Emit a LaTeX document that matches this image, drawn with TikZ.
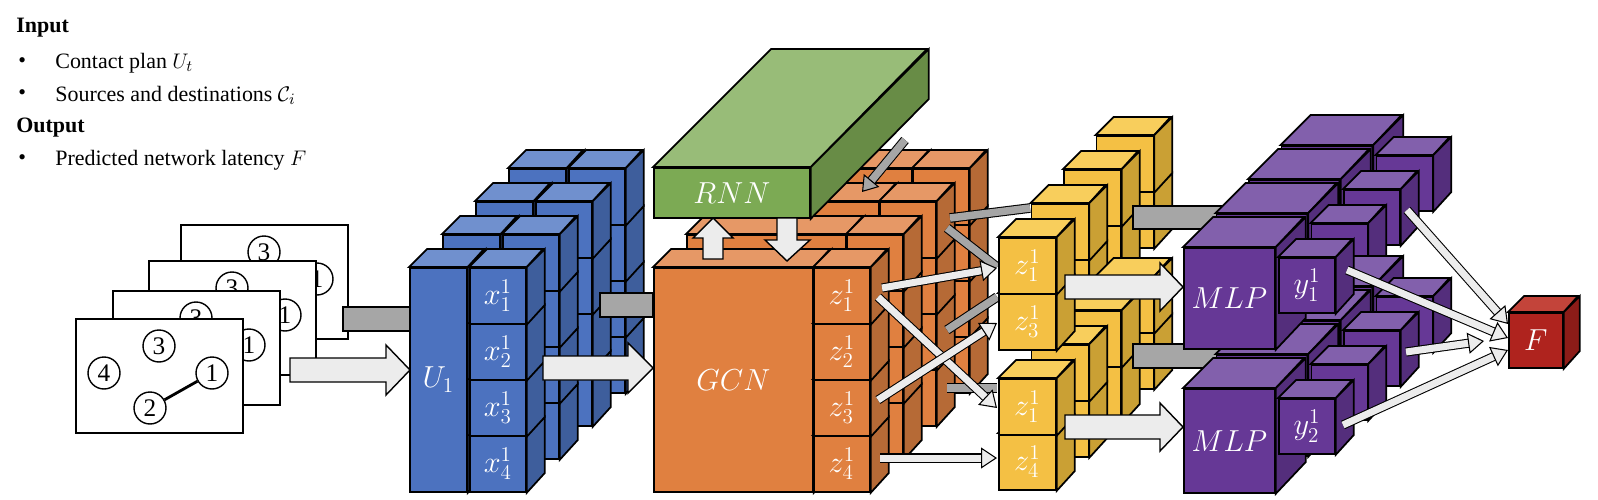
\documentclass[tikz,border=0pt]{standalone}
\usepackage{fontspec}
\setmainfont{Liberation Serif}
\usepackage{amsmath}
\usetikzlibrary{arrows.meta,positioning}

\definecolor{blueF}{RGB}{76,114,191}\definecolor{blueT}{RGB}{112,144,206}\definecolor{blueS}{RGB}{62,94,156}
\definecolor{oraF}{RGB}{224,128,64}\definecolor{oraT}{RGB}{230,152,102}\definecolor{oraS}{RGB}{182,106,54}
\definecolor{grnF}{RGB}{124,170,84}\definecolor{grnT}{RGB}{152,188,120}\definecolor{grnS}{RGB}{104,140,70}
\definecolor{yelF}{RGB}{244,192,68}\definecolor{yelT}{RGB}{248,206,92}\definecolor{yelS}{RGB}{202,160,52}
\definecolor{purF}{RGB}{102,56,150}\definecolor{purT}{RGB}{130,96,172}\definecolor{purS}{RGB}{84,46,124}
\definecolor{redF}{RGB}{175,35,30}\definecolor{redT}{RGB}{195,68,58}\definecolor{redS}{RGB}{140,28,24}
\definecolor{arrowgray}{RGB}{236,236,236}
\definecolor{bargray}{RGB}{166,166,166}

% front face is a node, top and side faces hang on its anchors
\newcommand{\cube}[8]{%
  \node[cubeface,fill=#7F,minimum width={#4*0.02cm},minimum height={#5*0.02cm}] (#1) at ({#2},{#3}) {#8};
  \filldraw[cubeline,fill=#7T] (#1.north west) -- ++(#6,-#6) -- ++(#4,0) -- (#1.north east) -- cycle;
  \filldraw[cubeline,fill=#7S] (#1.north east) -- ++(#6,-#6) -- ++(0,#5) -- (#1.south east) -- cycle;}
\newcommand{\blockarrow}[6]{%
  \filldraw[blockarr] (#1,{#3-#4}) -- ({#2-#6},{#3-#4}) -- ({#2-#6},{#3-#5}) -- (#2,#3)
    -- ({#2-#6},{#3+#5}) -- ({#2-#6},{#3+#4}) -- (#1,{#3+#4}) -- cycle;}

\begin{document}
\begin{tikzpicture}[x=0.02cm,y=-0.02cm,
    cubeface/.style={draw,line width=1pt,anchor=north west,inner sep=0pt,text=white,font=\LARGE},
    cubeline/.style={line width=1pt},
    blockarr/.style={fill=arrowgray,draw,line width=0.8pt},
    graybar/.style={fill=bargray,draw,line width=0.8pt},
    grayline/.style={draw,line width=0.6pt,double=bargray,double distance=0.15cm},
    thinarrow/.style={draw,line width=0.6pt,double=arrowgray,double distance=0.14cm,
      -{Triangle[length=0.32cm,width=0.42cm,fill=arrowgray]}},
    txt/.style={anchor=west,inner sep=0pt,font=\fontsize{12.5}{15}\selectfont},
    vertex/.style={circle,draw,line width=0.8pt,fill=white,minimum size=0.64cm,inner sep=0pt,font=\Large}]
  \useasboundingbox (0,0) rectangle (1598,500);

  % text block
  \node[txt,font=\fontsize{12.5}{15}\selectfont\bfseries] (inp) at (16,28) {Input};
  \node[txt] (b1) at (18,63) {\textbullet};
  \node[txt] (t1) at (55,63) {Contact plan $U_t$};
  \node[txt] (b2) at (18,95) {\textbullet};
  \node[txt] (t2) at (55,95) {Sources and destinations $\mathcal{C}_i$};
  \node[txt,font=\fontsize{12.5}{15}\selectfont\bfseries] (outp) at (16,128) {Output};
  \node[txt] (b3) at (18,160) {\textbullet};
  \node[txt] (t3) at (55,160) {Predicted network latency $F$};

  % contact plan snapshots
  \foreach \s/\gx/\gy in {4/181/225,3/149/261,2/113/291,1/76/319}{
    \filldraw[fill=white,line width=1pt] (\gx,\gy) rectangle ++(167,114);
    \node[vertex] (n4\s) at ({\gx+28},{\gy+54}) {4};
    \node[vertex] (n3\s) at ({\gx+83},{\gy+27}) {3};
    \node[vertex] (n1\s) at ({\gx+136},{\gy+54}) {1};
    \node[vertex] (n2\s) at ({\gx+74},{\gy+89}) {2};
    \draw[line width=1.6pt] (n2\s) -- (n1\s);
  }
  \filldraw[graybar] (343,307) rectangle (410,331);
  \blockarrow{290}{410}{370}{12}{25}{24}

  % blue input stacks
  \foreach \k in {3,2,1}{
    \pgfmathsetmacro\bx{409+33*\k}\pgfmathsetmacro\by{267-33*\k}
    \cube{bU\k}{\bx}{\by}{57}{224}{18}{blue}{}
    \foreach \r in {4,3,2,1}{\cube{bx\k\r}{\bx+60}{\by+(\r-1)*56}{56}{56}{18}{blue}{}}
  }
  \cube{bU0}{409}{267}{57}{224}{18}{blue}{$U_1$}
  \foreach \r in {4,3,2,1}{\cube{bx0\r}{469}{267+(\r-1)*56}{56}{56}{18}{blue}{$x^1_{\r}$}}
  \filldraw[graybar] (600,293) rectangle (653,317);
  \blockarrow{543}{653}{368}{12}{25}{25}

  % orange GCN stacks with the RNN on top
  \foreach \k in {3,2,1}{
    \pgfmathsetmacro\ox{653+33*\k}\pgfmathsetmacro\oy{267-33*\k}
    \cube{oG\k}{\ox}{\oy}{159}{224}{18}{ora}{}
    \foreach \r in {4,3,2,1}{\cube{oz\k\r}{\ox+160}{\oy+(\r-1)*56}{56}{56}{18}{ora}{}}
  }
  \coordinate (rs) at (905,140); \coordinate (re) at (862,192);
  \draw[grayline,-{Triangle[length=0.3cm,width=0.4cm,fill=bargray]}] (rs) -- (re);
  \cube{rnn}{653}{167}{156}{50}{118}{grn}{$RNN$}
  \cube{gcn}{653}{267}{159}{224}{18}{ora}{$GCN$}
  \foreach \r in {4,3,2,1}{\cube{oz0\r}{813}{267+(\r-1)*56}{56}{56}{18}{ora}{$z^1_{\r}$}}
  \filldraw[blockarr] (703,259) -- (703,238) -- (693,238) -- (713,218) -- (733,238) -- (723,238) -- (723,259) -- cycle;
  \filldraw[blockarr] (777,218) -- (777,240) -- (765,240) -- (787,261) -- (810,240) -- (797,240) -- (797,218) -- cycle;

  % gray links behind the yellow stacks
  \coordinate (g1a) at (950,218); \coordinate (g1b) at (1030,208);
  \coordinate (g2a) at (947,228); \coordinate (g2b) at (997,267);
  \coordinate (g3a) at (947,330); \coordinate (g3b) at (997,297);
  \coordinate (g4a) at (947,388); \coordinate (g4b) at (997,388);
  \foreach \a/\b in {g1a/g1b,g2a/g2b,g3a/g3b,g4a/g4b}{\draw[grayline] (\a) -- (\b);}

  % yellow stacks
  \foreach \k in {3,2,1}{
    \pgfmathsetmacro\yx{998+32.5*\k}\pgfmathsetmacro\yy{237-34*\k}
    \cube{ya\k2}{\yx}{\yy+56}{57}{56}{18}{yel}{}
    \cube{ya\k1}{\yx}{\yy}{57}{56}{18}{yel}{}
  }
  \foreach \k in {3,2,1}{
    \pgfmathsetmacro\yx{998+32.5*\k}\pgfmathsetmacro\yy{378-34*\k}
    \cube{yb\k2}{\yx}{\yy+56}{57}{56}{18}{yel}{}
    \cube{yb\k1}{\yx}{\yy}{57}{56}{18}{yel}{}
  }
  \cube{ya02}{998}{293}{57}{56}{18}{yel}{$z^1_3$}
  \cube{ya01}{998}{237}{57}{56}{18}{yel}{$z^1_1$}
  \cube{yb02}{998}{433}{57}{56}{18}{yel}{$z^1_4$}
  \cube{yb01}{998}{378}{57}{56}{18}{yel}{$z^1_1$}

  % links from the GCN outputs
  \coordinate (w1a) at (882,288); \coordinate (w1b) at (997,268);
  \coordinate (w2a) at (878,297); \coordinate (w2b) at (997,408);
  \coordinate (w3a) at (878,400); \coordinate (w3b) at (997,323);
  \coordinate (w4a) at (880,458); \coordinate (w4b) at (997,458);
  \foreach \a/\b in {w1a/w1b,w2a/w2b,w3a/w3b,w4a/w4b}{\draw[thinarrow] (\a) -- (\b);}

  \filldraw[graybar] (1133,206) rectangle (1227,229);
  \filldraw[graybar] (1133,344) rectangle (1227,368);

  % purple MLP stacks
  \foreach \k in {3,2,1}{
    \pgfmathsetmacro\px{1183+32.5*\k}\pgfmathsetmacro\py{247-34*\k}
    \cube{ma\k}{\px}{\py}{91}{101}{30}{pur}{}
    \cube{ya\k}{\px+95}{\py+10}{56}{55}{18}{pur}{}
  }
  \foreach \k in {3,2,1}{
    \pgfmathsetmacro\px{1183+32.5*\k}\pgfmathsetmacro\py{388-34*\k}
    \cube{mb\k}{\px}{\py}{91}{101}{30}{pur}{}
    \cube{yb\k}{\px+95}{\py+10}{56}{55}{18}{pur}{}
  }
  \cube{mlpa}{1183}{247}{91}{101}{30}{pur}{$MLP$}
  \cube{outa}{1278}{257}{56}{55}{18}{pur}{$y^1_1$}
  \cube{mlpb}{1183}{388}{91}{104}{30}{pur}{$MLP$}
  \cube{outb}{1278}{398}{56}{55}{18}{pur}{$y^1_2$}
  \blockarrow{1065}{1183}{287}{12}{24}{23}
  \blockarrow{1065}{1183}{427}{12}{24}{23}

  % latency output
  \cube{lat}{1508}{312}{54}{55}{16}{red}{$F$}
  \coordinate (f1) at (1407,210); \coordinate (f2) at (1347,270);
  \coordinate (f3) at (1406,352); \coordinate (f4) at (1343,425);
  \draw[thinarrow] (f1) -- (lat.west |- 0,324);
  \draw[thinarrow] (f2) -- (lat.west |- 0,338);
  \draw[thinarrow] (f3) -- (1484,341);
  \draw[thinarrow] (f4) -- (lat.west |- 0,350);
\end{tikzpicture}
\end{document}
